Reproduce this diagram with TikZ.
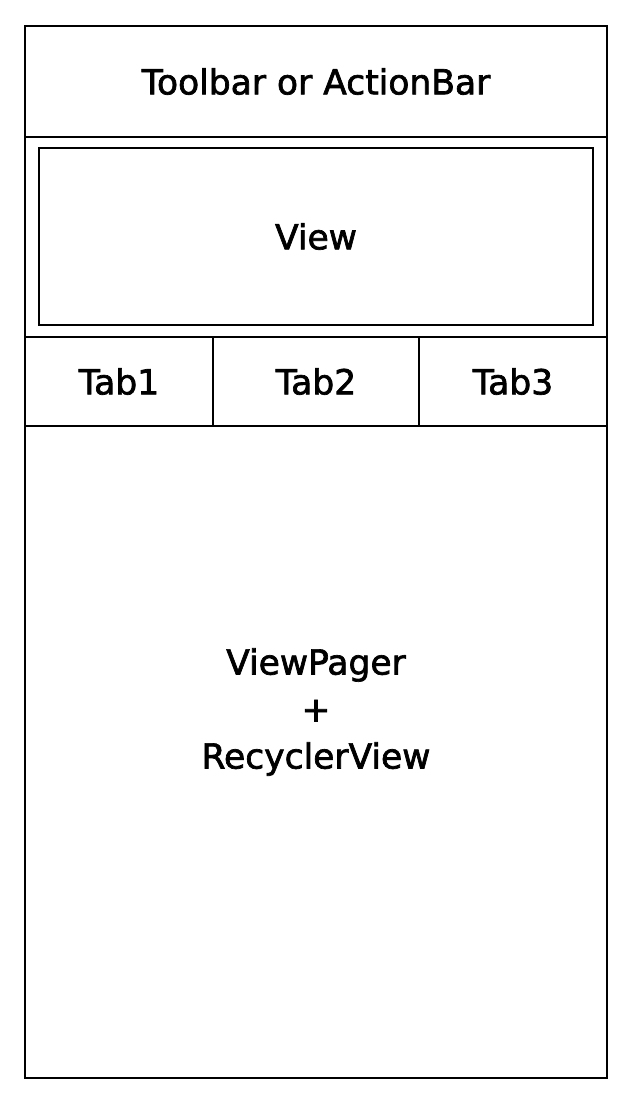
\documentclass[tikz,border=0pt]{standalone}
\usepackage{fontspec}
\setmainfont{DejaVu Sans}
\newfontfamily\medfont[FakeBold=2]{DejaVu Sans}
\begin{document}
\begin{tikzpicture}[x=1pt,y=-1pt,
  cell/.style={draw=black,line width=2pt,inner sep=0pt,anchor=north west,
    font=\medfont\fontsize{34.5}{48}\selectfont,align=center},
  lbl/.style={inner sep=0pt,font=\medfont\fontsize{34.5}{48}\selectfont,align=center}]
\useasboundingbox (0,0) rectangle (630,1098);
\node[cell,minimum width=582pt,minimum height=111pt] (toolbar) at (24,25) {Toolbar or ActionBar};
\node[cell,minimum width=582pt,minimum height=200pt] (viewsec) at (24,136) {};
\node[cell,minimum width=554pt,minimum height=177pt] (view) at (38,147) {View};
\node[cell,minimum width=188pt,minimum height=89pt] (tab1) at (24,336) {Tab1};
\node[cell,minimum width=206pt,minimum height=89pt] (tab2) at (212,336) {Tab2};
\node[cell,minimum width=188pt,minimum height=89pt] (tab3) at (418,336) {Tab3};
\node[cell,minimum width=582pt,minimum height=652pt] (pager) at (24,425) {};
\node[lbl] (pagertext) at ([yshift=40pt]pager.center) {ViewPager\\[-1pt]+\\[-1pt]RecyclerView};
\end{tikzpicture}
\end{document}
